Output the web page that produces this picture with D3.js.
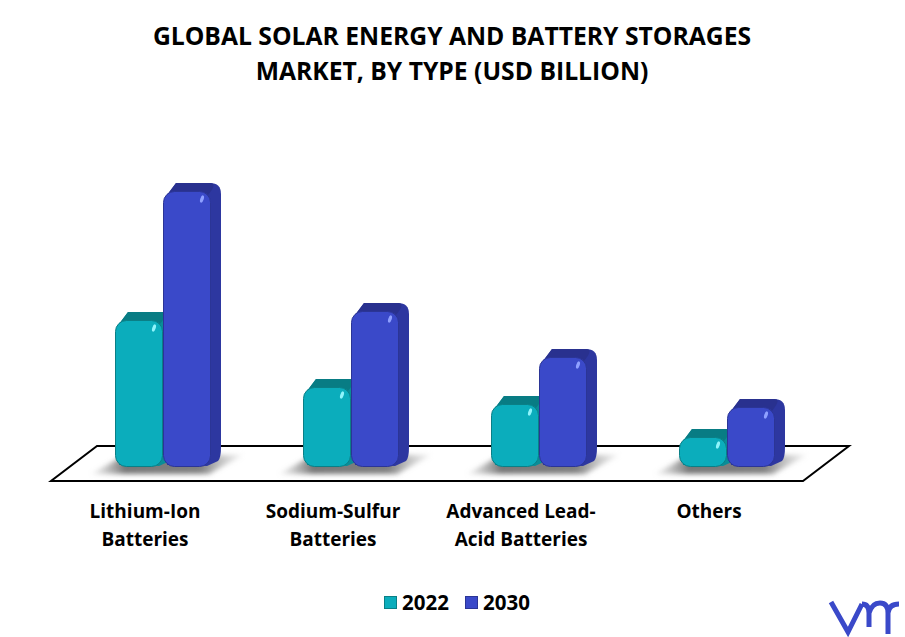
<!DOCTYPE html>
<html>
<head>
<meta charset="utf-8">
<script src="https://cdn.jsdelivr.net/npm/d3@7"></script>
<style>
  html, body { margin: 0; padding: 0; background: #fff; }
  text { font-family: "Open Sans", sans-serif; font-weight: 700; fill: #000; }
</style>
</head>
<body>
<div id="chart"></div>
<script>
const categories = ["Lithium-Ion Batteries", "Sodium-Sulfur Batteries", "Advanced Lead-Acid Batteries", "Others"];
const categoryLines = [["Lithium-Ion", "Batteries"], ["Sodium-Sulfur", "Batteries"], ["Advanced Lead-", "Acid Batteries"], ["Others"]];
const years = ["2022", "2030"];
const values2022 = [14.6, 7.9, 6.2, 2.9];
const values2030 = [27.5, 15.5, 10.9, 5.9];
const titleLines = ["GLOBAL SOLAR ENERGY AND BATTERY STORAGES", "MARKET, BY TYPE (USD BILLION)"];

const width = 905, height = 637;
const baseY = 467;
const depthX = 10, depthY = 9;

const colors = {
  "2022": { front: "#0badbc", side: "#0a8d97", top: "#087c84", edge: "#0a7f86", shine: "#8ff4fb" },
  "2030": { front: "#3a49c9", side: "#2d37a0", top: "#29318f", edge: "#2b3596", shine: "#8fa0ff" }
};

const svg = d3.select("#chart").append("svg")
  .attr("width", width)
  .attr("height", height)
  .style("display", "block");

const defs = svg.append("defs");
defs.append("filter").attr("id", "blur")
  .attr("x", "-20%").attr("y", "-100%").attr("width", "140%").attr("height", "300%")
  .append("feGaussianBlur").attr("stdDeviation", 2.5);

// one gradient per shadow, fades out at both ends
const shadowGrad = defs.append("linearGradient").attr("id", "shadowGrad");
shadowGrad.append("stop").attr("offset", "0%").attr("stop-color", "#aaa").attr("stop-opacity", 0.15);
shadowGrad.append("stop").attr("offset", "22%").attr("stop-color", "#777").attr("stop-opacity", 1);
shadowGrad.append("stop").attr("offset", "72%").attr("stop-color", "#808080").attr("stop-opacity", 1);
shadowGrad.append("stop").attr("offset", "100%").attr("stop-color", "#bbb").attr("stop-opacity", 0.2);

const x0 = d3.scaleBand()
  .domain(categories)
  .range([69, 821])
  .paddingInner(92 / 188)
  .paddingOuter(46 / 188);

const x1 = d3.scaleBand()
  .domain(years)
  .range([0, x0.bandwidth()]);

const y = d3.scaleLinear()
  .domain([0, d3.max(values2030)])
  .range([baseY, 192]);

// title
svg.append("g").selectAll("text")
  .data(titleLines)
  .join("text")
  .attr("x", 452)
  .attr("y", (d, i) => 45 + i * 35)
  .attr("text-anchor", "middle")
  .attr("font-size", 24.7)
  .text(d => d);

// floor
const floorL = x0.range()[0], floorR = x0.range()[1];
svg.append("path")
  .attr("d", d3.line()([[floorL + 28, 446], [floorR + 28, 446], [floorR - 18, 481], [floorL - 18, 481]]) + "Z")
  .attr("fill", "#fff")
  .attr("stroke", "#000")
  .attr("stroke-width", 2);

const groups = svg.append("g").selectAll("g")
  .data(categories)
  .join("g")
  .attr("transform", d => `translate(${x0(d)},0)`);

// shadows under each pair of bars
groups.append("path")
  .attr("d", d3.line()([[-24, 474], [94, 474], [128, 455], [10, 455]]) + "Z")
  .attr("fill", "url(#shadowGrad)")
  .attr("filter", "url(#blur)");

function drawBar(sel, year, vals) {
  const c = colors[year];
  const bw = x1.bandwidth();
  const bars = sel.append("g").attr("transform", `translate(${x1(year)},0)`);

  bars.each(function (cat) {
    const g = d3.select(this);
    const v = vals[categories.indexOf(cat)];
    const top = y(v), bot = y(0);
    const r = Math.min(11, (bot - top) / 2.6);

    // extruded side, runs behind the front face
    g.append("path")
      .attr("d", `M4,${top + 3} L${r + 2},${top - depthY}
        L${bw + depthX - r},${top - depthY}
        Q${bw + depthX},${top - depthY} ${bw + depthX},${top - depthY + r}
        L${bw + depthX},${bot - depthY - r}
        Q${bw + depthX},${bot - depthY} ${bw + depthX - 3},${bot - depthY + 3}
        L${bw - 4},${bot - 1} L4,${bot - 2} Z`)
      .attr("fill", c.side);

    // top face
    g.append("path")
      .attr("d", `M4,${top + 3} L${r + 2},${top - depthY}
        L${bw + depthX - r},${top - depthY}
        Q${bw + depthX - 3},${top - depthY} ${bw - 3},${top + 3} Z`)
      .attr("fill", c.top);

    // front face
    g.append("rect")
      .attr("x", 0.5)
      .attr("y", top - 0.5)
      .attr("width", bw - 1)
      .attr("height", bot - top)
      .attr("rx", r)
      .attr("ry", r)
      .attr("fill", c.front)
      .attr("stroke", c.edge)
      .attr("stroke-width", 1);

    // small glint near the top right
    g.append("ellipse")
      .attr("cx", bw - 9)
      .attr("cy", top + 7)
      .attr("rx", 1.7)
      .attr("ry", 3.8)
      .attr("transform", `rotate(18 ${bw - 9} ${top + 7})`)
      .attr("fill", c.shine);
  });
}

drawBar(groups, "2022", values2022);
drawBar(groups, "2030", values2030);

// category labels
groups.each(function (cat, i) {
  d3.select(this).selectAll("text")
    .data(categoryLines[i])
    .join("text")
    .attr("x", x0.bandwidth() / 2 - 18)
    .attr("y", (d, j) => 517.5 + j * 28)
    .attr("text-anchor", "middle")
    .attr("font-size", 19)
    .text(d => d);
});

// legend
const legendX = d3.scaleOrdinal().domain(years).range([384, 465]);
const legend = svg.append("g").selectAll("g")
  .data(years)
  .join("g")
  .attr("transform", d => `translate(${legendX(d)},596)`);

legend.append("rect")
  .attr("x", 0.5).attr("y", 0.5)
  .attr("width", 12).attr("height", 12)
  .attr("fill", d => colors[d].front)
  .attr("stroke", d => colors[d].edge);

legend.append("text")
  .attr("x", 18)
  .attr("y", 14)
  .attr("font-size", 20.5)
  .text(d => d);

// logo mark
svg.append("path")
  .attr("d", "M831,602 L848,632 L862,604 M862,604 Q869,604 869,613 L869,627 M869,613 Q872,603 880,603 Q888,603 888,613 L888,634 M888,613 Q889,604 899,604")
  .attr("fill", "none")
  .attr("stroke", "#3a49c9")
  .attr("stroke-width", 5);
</script>
</body>
</html>
